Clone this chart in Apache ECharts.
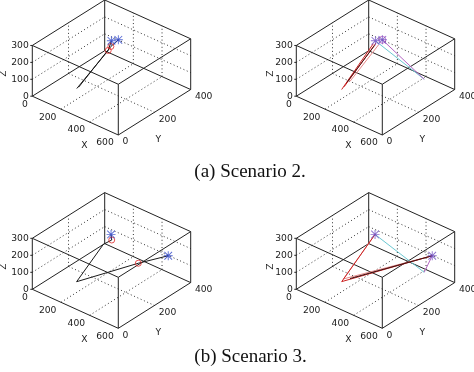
<!DOCTYPE html>
<html><head><meta charset="utf-8">
<script src="https://cdn.jsdelivr.net/npm/echarts@6/dist/echarts.min.js"></script>
<style>html,body{margin:0;padding:0;background:#fff}#c{width:474px;height:372px}</style>
</head><body><div id="c"></div>
<script>
// ---- axes ----
const xLim = [0, 600], yLim = [0, 400], zLim = [0, 300];
const xTicks = [0, 200, 400, 600];
const yTicks = [0, 200, 400];
const zTicks = [0, 100, 200, 300];
const axisNames = ['X', 'Y', 'Z'];
const captions = ['(a) Scenario 2.', '(b) Scenario 3.'];

// ---- scenario 2 (x, y, z) ----
const s2Targets = [[236, 250, 250], [258, 271, 250]];
const s2Circles = [[253, 219, 220], [249, 237, 230]];
const s2BlackPath1 = [[131, 142, 0], [253, 219, 220], [236, 250, 250]];
const s2BlackPath2 = [[130, 153, 0], [249, 237, 230], [258, 271, 250]];
const s2RedPath1 = [[141, 139, 0], [236, 238, 240]];
const s2RedPath2 = [[133, 159, 0], [242, 249, 240]];
const s2PinkPath = [[122, 200, 0], [265, 244, 240]];
const s2DarkPath = [[116, 188, 0], [252, 233, 240]];
const basePoint = [410, 382, 0];
const s2CyanPath = [[236, 250, 250], [410, 382, 0]];
const s2MagentaPath = [[258, 271, 250], [410, 382, 0]];

// ---- scenario 3 ----
const s3Targets = [[240, 245, 250], [500, 355, 150]];
const s3Circles = [[246, 244, 220], [405, 265, 130]];
const s3BlackPath1 = [[131, 141, 0], [218, 220, 200], [246, 244, 220], [240, 245, 250]];
const s3BlackPath2 = [[131, 141, 0], [405, 265, 130], [500, 355, 150]];
const s3RedPath1 = [[135, 144, 0], [240, 245, 250]];
const s3PinkPath1 = [[125, 162, 0], [240, 245, 250]];
const s3RedPath2 = [[135, 144, 0], [500, 355, 150]];
const s3PinkPath2 = [[125, 162, 0], [500, 355, 150]];
const s3DarkPath = [[149, 179, 0], [500, 355, 150]];
const s3CyanPath = [[240, 245, 250], [410, 382, 0]];
const s3MagentaPath = [[500, 355, 150], [410, 382, 0]];

// ---- view / layout ----
const VIEW = { x: [86, -39], y: [72.4, 45.7], z: [0, 51] };
const uMax = VIEW.x[0] + VIEW.y[0];
const vMin = VIEW.x[1], vMax = VIEW.y[1] + VIEW.z[1];
const origins = [[32.3, 96], [296.3, 96], [32.3, 289.3], [296.3, 289.3]];
const zNameOff = [-29, -25.5, -29, -25.5];

function proj(p) {
  const a = (p[0] - xLim[0]) / (xLim[1] - xLim[0]);
  const b = (p[1] - yLim[0]) / (yLim[1] - yLim[0]);
  const c = (p[2] - zLim[0]) / (zLim[1] - zLim[0]);
  return [a * VIEW.x[0] + b * VIEW.y[0] + c * VIEW.z[0],
          a * VIEW.x[1] + b * VIEW.y[1] + c * VIEW.z[1]];
}

const STAR = 'path://M0 9 H20 V11 H0 Z M9 0 H11 V20 H9 Z M2.2 0.8 L19.2 17.8 L17.8 19.2 L0.8 2.2 Z M17.8 0.8 L19.2 2.2 L2.2 19.2 L0.8 17.8 Z';

function frameRender(pi) {
  return function (params, api) {
    const P = (x, y, z) => api.coord(proj([x, y, z]));
    const ch = [];
    const seg = (A, B, dash, color, w) => ch.push({
      type: 'line', shape: { x1: A[0], y1: A[1], x2: B[0], y2: B[1] },
      style: { stroke: color || '#222', lineWidth: w || 1, lineDash: dash || null }
    });
    const [x0, x1] = xLim, [y0, y1] = yLim, [z0, z1] = zLim;
    const dot = [1, 2.6], dc = '#333';
    xTicks.forEach(x => { if (x > x0 && x < x1) { seg(P(x, y0, z0), P(x, y1, z0), dot, dc); seg(P(x, y1, z0), P(x, y1, z1), dot, dc); } });
    yTicks.forEach(y => { if (y > y0 && y < y1) { seg(P(x0, y, z0), P(x1, y, z0), dot, dc); seg(P(x0, y, z0), P(x0, y, z1), dot, dc); } });
    zTicks.forEach(z => { if (z > z0 && z < z1) { seg(P(x0, y0, z), P(x0, y1, z), dot, dc); seg(P(x0, y1, z), P(x1, y1, z), dot, dc); } });
    for (const y of [y0, y1]) for (const z of [z0, z1]) seg(P(x0, y, z), P(x1, y, z));
    for (const x of [x0, x1]) for (const z of [z0, z1]) seg(P(x, y0, z), P(x, y1, z));
    for (const x of [x0, x1]) for (const y of [y0, y1]) seg(P(x, y, z0), P(x, y, z1));
    zTicks.forEach(z => { const p = P(x0, y0, z); seg([p[0] - 2, p[1]], p); });
    const txt = (s, pt, dx, dy, align, extra) => ch.push(Object.assign({
      type: 'text', x: pt[0] + dx, y: pt[1] + dy,
      style: { text: s, fill: '#1a1a1a', fontSize: 9.2, fontFamily: 'DejaVu Sans', align: align, verticalAlign: 'middle' }
    }, extra || {}));
    xTicks.forEach(x => txt(String(x), P(x, y0, z0), -4.5, 8, 'right'));
    yTicks.forEach(y => txt(String(y), P(x1, y, z0), 4.2, 7, 'left'));
    zTicks.forEach(z => txt(String(z), P(x0, y0, z), -3.5, 0, 'right'));
    txt(axisNames[0], P((x0 + x1) / 2, y0, z0), 9, 30.5, 'center');
    txt(axisNames[1], P(x1, (y0 + y1) / 2, z0), 3.8, 27, 'center');
    txt(axisNames[2], P(x0, y0, (z0 + z1) / 2), zNameOff[pi], 2.8, 'center', { rotation: Math.PI / 2 });
    return { type: 'group', children: ch };
  };
}

const grids = [], xAxes = [], yAxes = [], series = [];
origins.forEach((o, i) => {
  grids.push({ left: o[0], top: o[1] - vMax, width: uMax, height: vMax - vMin });
  xAxes.push({ type: 'value', gridIndex: i, min: 0, max: uMax, show: false });
  yAxes.push({ type: 'value', gridIndex: i, min: vMin, max: vMax, show: false });
  series.push({ type: 'custom', xAxisIndex: i, yAxisIndex: i, data: [[0, 0]], clip: false, silent: true, z: 1, renderItem: frameRender(i) });
});

function addLine(i, path, color, w) {
  series.push({ type: 'line', xAxisIndex: i, yAxisIndex: i, data: path.map(proj), symbol: 'none', silent: true, z: 2,
    lineStyle: { color: color, width: w || 1 } });
}
function addStars(i, pts, color) {
  series.push({ type: 'scatter', xAxisIndex: i, yAxisIndex: i, data: pts.map(proj), symbol: STAR, symbolSize: 9, silent: true, z: 4,
    itemStyle: { color: color } });
}
function addCircles(i, pts, color, size) {
  series.push({ type: 'scatter', xAxisIndex: i, yAxisIndex: i, data: pts.map(proj), symbol: 'circle', symbolSize: size || 6, silent: true, z: 3,
    itemStyle: { color: 'rgba(0,0,0,0)', borderColor: color, borderWidth: 1 } });
}

// panel 1
addLine(0, s2BlackPath1, '#1a1a1a');
addLine(0, s2BlackPath2, '#1a1a1a');
addCircles(0, s2Circles, '#e02a2a');
addStars(0, s2Targets, '#2c44c8');
// panel 2
addLine(1, s2CyanPath, '#6cc8d2');
addLine(1, s2MagentaPath, '#b466c4');
addLine(1, s2PinkPath, '#e88a8a');
addLine(1, s2RedPath1, '#cc2222');
addLine(1, s2RedPath2, '#c81e1e');
addLine(1, s2DarkPath, '#4a1414');
addCircles(1, [s2Targets[1]], '#c060c0', 7);
addStars(1, s2Targets, '#6a48c0');
// panel 3
addLine(2, s3BlackPath1, '#1a1a1a');
addLine(2, s3BlackPath2, '#1a1a1a');
addCircles(2, s3Circles, '#e02a2a');
addStars(2, s3Targets, '#2c44c8');
// panel 4
addLine(3, s3CyanPath, '#6cc8d2');
addLine(3, s3MagentaPath, '#b466c4');
addLine(3, s3PinkPath1, '#e88a8a');
addLine(3, s3PinkPath2, '#e88a8a');
addLine(3, s3RedPath1, '#cc2222');
addLine(3, s3RedPath2, '#cc2222');
addLine(3, s3DarkPath, '#3a1010');
addStars(3, s3Targets, '#6a48c0');

const chart = echarts.init(document.getElementById('c'), null, { renderer: 'canvas' });
chart.setOption({
  animation: false,
  backgroundColor: '#fff',
  grid: grids, xAxis: xAxes, yAxis: yAxes, series: series,
  graphic: [
    { type: 'text', x: 250, y: 172, style: { text: captions[0], font: '19px "Liberation Serif"', fill: '#111', align: 'center', verticalAlign: 'middle' } },
    { type: 'text', x: 250.5, y: 357, style: { text: captions[1], font: '19px "Liberation Serif"', fill: '#111', align: 'center', verticalAlign: 'middle' } }
  ]
});
</script></body></html>
